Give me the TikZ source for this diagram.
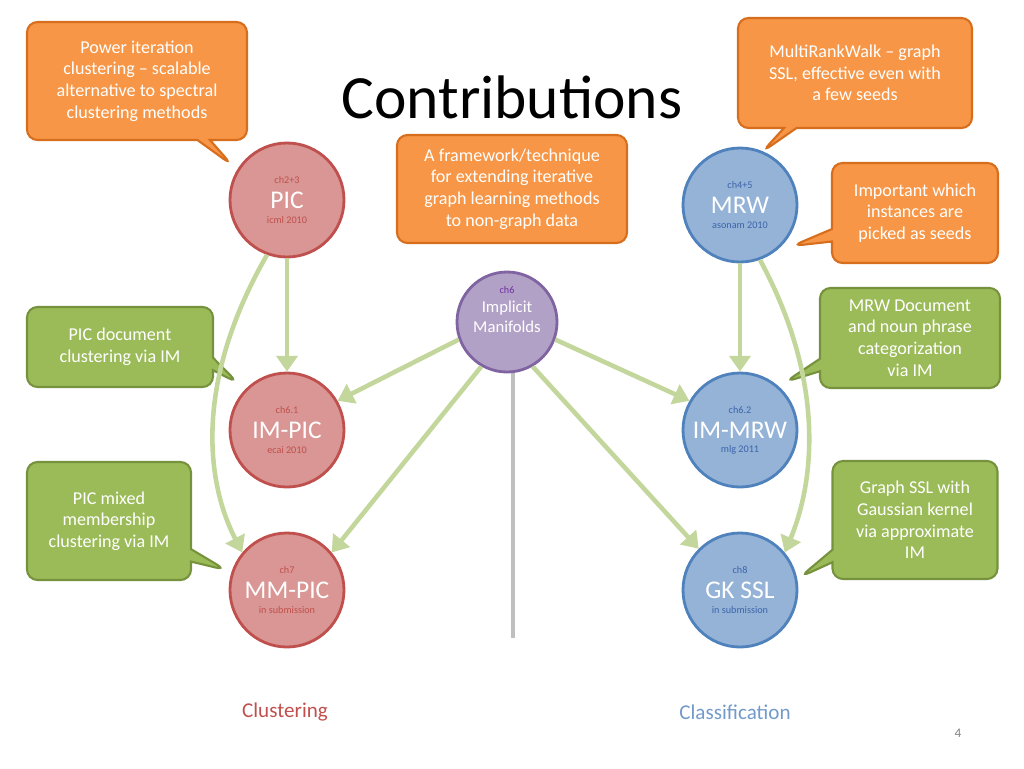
\documentclass[tikz,border=0pt]{standalone}
\usepackage{fontspec}
\setmainfont{Carlito}
\usetikzlibrary{shapes.callouts,arrows.meta}
\definecolor{rfill}{RGB}{217,150,148}\definecolor{rdraw}{RGB}{192,80,77}
\definecolor{bfill}{RGB}{149,179,215}\definecolor{bdraw}{RGB}{79,129,189}
\definecolor{pfill}{RGB}{178,161,199}\definecolor{pdraw}{RGB}{128,100,162}
\definecolor{ofill}{RGB}{247,150,70}\definecolor{odraw}{RGB}{215,110,30}
\definecolor{gfill}{RGB}{155,187,89}\definecolor{gdraw}{RGB}{118,146,60}
\definecolor{arr}{RGB}{195,214,155}
\definecolor{rtxt}{RGB}{192,80,77}\definecolor{btxt}{RGB}{60,100,170}\definecolor{ptxt}{RGB}{112,48,160}
\begin{document}
\begin{tikzpicture}[x=0.02cm,y=-0.02cm,
 circ/.style={circle,minimum size=114*0.02cm,line width=1.6pt,inner sep=0pt,align=center},
 red/.style={circ,fill=rfill,draw=rdraw},
 blu/.style={circ,fill=bfill,draw=bdraw},
 small/.style={font=\fontsize{5.8}{7}\selectfont},
 big/.style={font=\fontsize{14.5}{16}\selectfont},
 co/.style={rectangle callout,rounded corners=6pt,line width=1.2pt,align=center,
   font=\fontsize{10.3}{12.3}\selectfont,inner sep=0pt},
 oc/.style={co,fill=ofill,draw=odraw,text=white},
 gc/.style={co,fill=gfill,draw=gdraw,text=white},
 ar/.style={draw=arr,line width=2.6pt,-{Triangle[length=9pt,width=12pt]}}]
\useasboundingbox (0,0) rectangle (1024,768);
\draw[gray!50,line width=2pt] (513,300) -- (513,638);
\node (title) at (512,97) {\fontsize{35}{40}\selectfont Contributions};
\node[red] (pic) at (287,200) {};
\node[red] (impic) at (287,430) {};
\node[red] (mmpic) at (287,590) {};
\node[blu] (mrw) at (740,205) {};
\node[blu] (immrw) at (740,430) {};
\node[blu] (gk) at (740,590) {};
\node[circ,minimum size=100*0.02cm,fill=pfill,draw=pdraw] (im) at (507,322) {};
\foreach \n/\a/\b/\c/\t in {pic/ch2+3/PIC/icml 2010/rtxt,impic/ch6.1/IM-PIC/ecai 2010/rtxt,mmpic/ch7/MM-PIC/in submission/rtxt,mrw/ch4+5/MRW/asonam 2010/btxt,immrw/ch6.2/IM-MRW/mlg 2011/btxt,gk/ch8/GK SSL/in submission/btxt}{
 \node[small,text=\t] at ([yshift=0.4cm]\n.center) {\a};
 \node[big,text=white] at (\n.center) {\b};
 \node[small,text=\t] at ([yshift=-0.4cm]\n.center) {\c};}
\node[small,text=ptxt] at ([yshift=0.64cm]im.center) {ch6};
\node[text=white,align=center,font=\fontsize{9.5}{11.5}\selectfont] at ([yshift=0.1cm]im.center) {Implicit\\Manifolds};
\node[oc,minimum width=220*0.02cm,minimum height=118*0.02cm,callout absolute pointer={(232,165)}] (c1) at (137,81) {Power iteration\\clustering -- scalable\\alternative to spectral\\clustering methods};
\node[oc,minimum width=234*0.02cm,minimum height=110*0.02cm,callout absolute pointer={(762,152)}] (c2) at (855,73) {MultiRankWalk -- graph\\SSL, effective even with\\a few seeds};
\node[rectangle,rounded corners=6pt,line width=1.2pt,align=center,font=\fontsize{10.3}{12.3}\selectfont,inner sep=0pt,fill=ofill,draw=odraw,text=white,minimum width=230*0.02cm,minimum height=108*0.02cm] (c3) at (512,189) {A framework/technique\\for extending iterative\\graph learning methods\\to non-graph data};
\node[oc,minimum width=166*0.02cm,minimum height=100*0.02cm,callout absolute pointer={(792,246)}] (c4) at (915,213) {Important which\\instances are\\picked as seeds};
\node[gc,minimum width=186*0.02cm,minimum height=80*0.02cm,callout absolute pointer={(238,383)}] (g1) at (120,347) {PIC document\\clustering via IM};
\node[gc,minimum width=180*0.02cm,minimum height=100*0.02cm,callout absolute pointer={(785,382)}] (g2) at (910,338) {MRW Document\\and noun phrase\\categorization\\via IM};
\node[gc,minimum width=164*0.02cm,minimum height=118*0.02cm,callout absolute pointer={(226,570)}] (g3) at (109,521) {PIC mixed\\membership\\clustering via IM};
\node[gc,minimum width=165*0.02cm,minimum height=118*0.02cm,callout absolute pointer={(800,577)}] (g4) at (915,520) {Graph SSL with\\Gaussian kernel\\via approximate\\IM};
\draw[ar] (pic) -- (impic);
\draw[ar] (mrw) -- (immrw);
\draw[ar] (pic.250) .. controls (195,380) and (205,480) .. (mmpic.140);
\draw[ar] (mrw.290) .. controls (825,380) and (815,480) .. (gk.40);
\draw[ar] (im.200) -- (impic.30);
\draw[ar] (im.240) -- (mmpic.40);
\draw[ar] (im.340) -- (immrw.150);
\draw[ar] (im.300) -- (gk.135);
\node[text=rdraw,font=\fontsize{12}{14}\selectfont] (l1) at (285,712) {Clustering};
\node[text=bdraw!80,font=\fontsize{12}{14}\selectfont] (l2) at (735,712) {Classification};
\node[text=gray,font=\fontsize{7.5}{9}\selectfont] (pg) at (958,733) {4};
\end{tikzpicture}
\end{document}
